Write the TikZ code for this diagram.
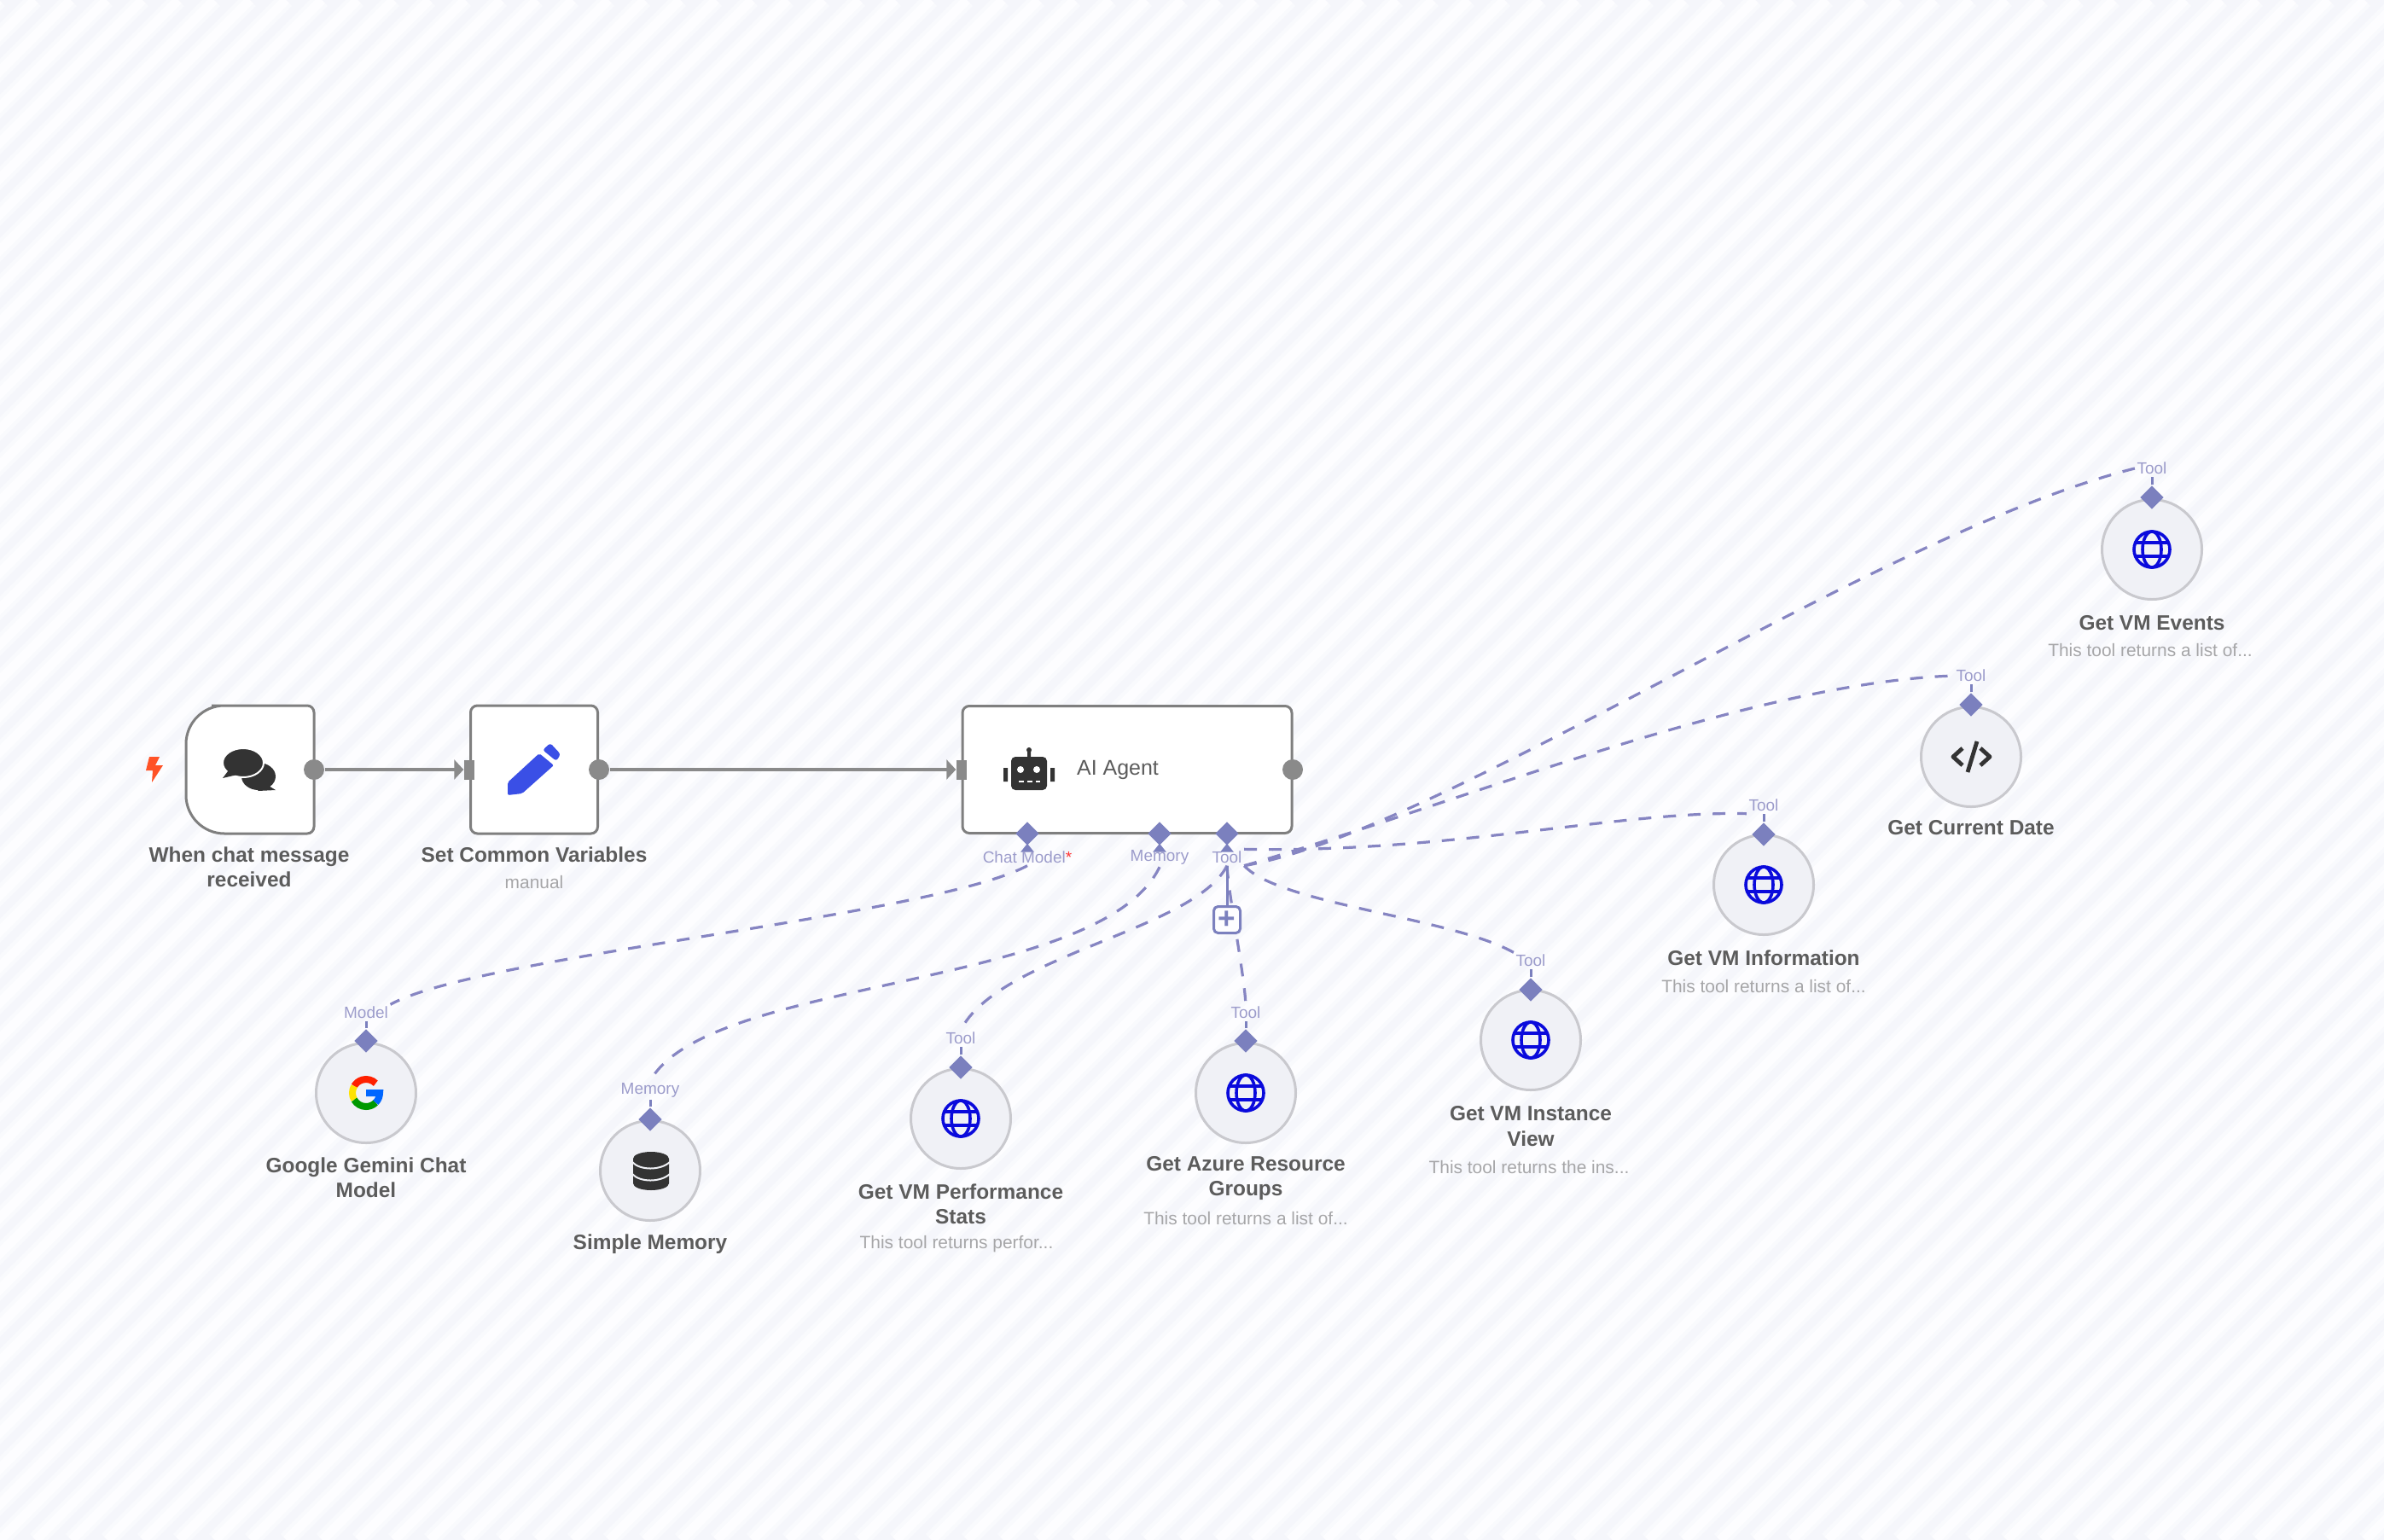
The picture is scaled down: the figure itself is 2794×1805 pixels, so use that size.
\documentclass[tikz,border=0pt]{standalone}
\usepackage{fontspec}
\setmainfont{Liberation Sans}
\usetikzlibrary{shapes.geometric,arrows.meta}
\definecolor{stripedark}{HTML}{F5F6FB}
\definecolor{stripemid}{HTML}{F9FAFD}
\definecolor{stripelight}{HTML}{FDFDFF}
\definecolor{framegray}{HTML}{7F7F7F}
\definecolor{flowgray}{HTML}{8A8A8A}
\definecolor{iconblack}{HTML}{333333}
\definecolor{penblue}{HTML}{3A4FE6}
\definecolor{globeblue}{HTML}{0A0ADC}
\definecolor{portblue}{HTML}{7B80BE}
\definecolor{wireblue}{HTML}{8685C2}
\definecolor{lblblue}{HTML}{9C9CCB}
\definecolor{toolfill}{HTML}{F0F1F6}
\definecolor{toolline}{HTML}{C9C9CE}
\definecolor{namegray}{HTML}{5C5C5C}
\definecolor{subgray}{HTML}{A6A6A8}
\tikzset{
    boxnode/.style={draw=framegray,fill=white,line width=0.3mm,rounded corners=0.8mm,inner sep=0},
    toolnode/.style={circle,draw=toolline,fill=toolfill,line width=0.3mm,minimum size=11.7mm,inner sep=0},
    outdot/.style={circle,fill=flowgray,minimum size=2.4mm,inner sep=0},
    indot/.style={fill=flowgray,minimum width=1.2mm,minimum height=2.3mm,inner sep=0},
    flow/.style={draw=flowgray,line width=0.35mm,-{Triangle[length=1.1mm,width=2.3mm]}},
    portnode/.style={diamond,fill=portblue,minimum width=2.8mm,minimum height=2.8mm,inner sep=0},
    wire/.style={draw=wireblue,line width=0.32mm,dash pattern=on 1.5mm off 1.4mm},
    stub/.style={draw=portblue,line width=0.3mm},
    portlbl/.style={text=lblblue,inner sep=0.2mm,font=\fontsize{5.4pt}{6.5pt}\selectfont},
    namelbl/.style={text=namegray,inner sep=0,align=center,font=\bfseries\fontsize{6.95pt}{8.3pt}\selectfont},
    sublbl/.style={text=subgray,inner sep=0,font=\fontsize{5.95pt}{7pt}\selectfont},
    globe/.pic={
        \draw[globeblue,line width=0.36mm] (0,0) circle[radius=21];
        \draw[globeblue,line width=0.36mm] (0,0) circle[x radius=11,y radius=21];
        \draw[globeblue,line width=0.36mm] (-19,-8) -- (19,-8) (-19,8) -- (19,8);
    }
}
\begin{document}
\begin{tikzpicture}[x=0.1mm,y=-0.1mm]
    \useasboundingbox (0,0) rectangle (2794,1805);
    \begin{scope}
        \clip (0,0) rectangle (2794,1805);
        \fill[stripedark] (0,0) rectangle (2794,1805);
        \foreach \s in {-1848,-1806,...,2800} {
            \draw[stripemid,line width=2.0mm] (\s,1805) -- (\s+1805,0);
            \draw[stripelight,line width=1.1mm] (\s,1805) -- (\s+1805,0);
        }
    \end{scope}

    % first row
    \fill[red!60!orange!85!white] (175,887) -- (187,887) -- (182,897) -- (191,897) -- (178,917) -- (179,903) -- (171,903) -- cycle;
    \draw[draw=framegray,fill=white,line width=0.3mm] [rounded corners=0.8mm] (293,827) -- (368,827) -- (368,977) -- (293,977) [rounded corners=4.5mm] -- (218,977) -- (218,827) -- cycle;
    \node[boxnode,minimum width=14.9mm,minimum height=15mm] (setvars) at (626,902) {};
    \node[boxnode,minimum width=38.6mm,minimum height=14.9mm] (agent) at (1321,902) {};
    \node[outdot] (chatout) at (368,902) {};
    \node[outdot] (setout) at (702,902) {};
    \node[outdot] (agentout) at (1515,902) {};
    \node[indot] (setin) at (550,902) {};
    \node[indot] (agentin) at (1127,902) {};
    \draw[flow] (chatout) -- (setin);
    \draw[flow] (setout) -- (agentin);

    % chat bubbles
    \fill[iconblack] (303,910) circle[x radius=20,y radius=16];
    \fill[iconblack] (310,918) -- (323,926) -- (302,927) -- cycle;
    \draw[white,fill=iconblack,line width=0.2mm] (285,894) circle[x radius=24,y radius=17];
    \fill[iconblack] (270,900) -- (261,912) -- (278,908) -- cycle;
    % pen
    \fill[penblue,rounded corners=0.2mm] (595,932) -- (595,917) -- (632,883) -- (649,897) -- (612,930) -- cycle;
    \fill[penblue,rounded corners=0.3mm] (636,879) -- (645,871) -- (657,884) -- (652,892) -- cycle;
    % robot
    \fill[iconblack,rounded corners=0.5mm] (1185,887) rectangle (1227,926);
    \fill[iconblack] (1176,900) rectangle (1181,916) (1231,900) rectangle (1236,916) (1204,880) rectangle (1208,887);
    \fill[iconblack] (1206,879) circle[radius=3];
    \fill[white] (1196,902) circle[radius=4] (1215,902) circle[radius=4];
    \draw[white,line width=0.2mm,dash pattern=on 0.6mm off 0.4mm] (1194,916) -- (1219,916);

    \node[text=namegray,font=\fontsize{7.1pt}{8pt}\selectfont] (agenttxt) at (1310,902) {AI Agent};
    \node[namelbl] (chatname) at (292,1016) {When chat message\\received};
    \node[namelbl] (setname) at (626,1002) {Set Common Variables};
    \node[sublbl] (setsub) at (626,1034) {manual};

    % agent ports
    \node[portnode] (modelport) at (1204,977) {};
    \node[portnode] (memport) at (1359,977) {};
    \node[portnode] (toolport) at (1438,977) {};
    \foreach \p in {modelport,memport,toolport}
        \fill[portblue] (\p.south) ++(-8,7) -- ++(16,0) -- ++(-8,-10) -- cycle;
    \node[portlbl] (modellbl) at (1204,1005) {Chat Model\textcolor{red!80!white}{*}};
    \node[portlbl] (memlbl) at (1359,1005) {Memory};
    \node[portlbl] (toollbl) at (1438,1005) {Tool};

    % sub nodes
    \node[toolnode] (gemini) at (429,1281) {};
    \node[toolnode] (memory) at (762,1372) {};
    \node[toolnode] (perf) at (1126,1311) {};
    \node[toolnode] (azure) at (1460,1281) {};
    \node[toolnode] (instance) at (1794,1219) {};
    \node[toolnode] (info) at (2067,1037) {};
    \node[toolnode] (date) at (2310,887) {};
    \node[toolnode] (events) at (2522,644) {};

    \node[portnode] (geminiport) at (429,1220) {};
    \node[portnode] (memoryport) at (762,1312) {};
    \node[portnode] (perfport) at (1126,1251) {};
    \node[portnode] (azureport) at (1460,1220) {};
    \node[portnode] (instanceport) at (1794,1160) {};
    \node[portnode] (infoport) at (2067,978) {};
    \node[portnode] (dateport) at (2310,826) {};
    \node[portnode] (eventsport) at (2522,583) {};

    \node[portlbl] (geminilbl) at (429,1187) {Model};
    \node[portlbl] (memorylbl) at (762,1278) {Memory};
    \node[portlbl] (perflbl) at (1126,1217) {Tool};
    \node[portlbl] (azurelbl) at (1460,1187) {Tool};
    \node[portlbl] (instancelbl) at (1794,1126) {Tool};
    \node[portlbl] (infolbl) at (2067,944) {Tool};
    \node[portlbl] (datelbl) at (2310,792) {Tool};
    \node[portlbl] (eventslbl) at (2522,549) {Tool};

    \foreach \p/\l in {geminiport/geminilbl,memoryport/memorylbl,perfport/perflbl,azureport/azurelbl,instanceport/instancelbl,infoport/infolbl,dateport/datelbl,eventsport/eventslbl}
        \draw[stub] (\p) -- (\l);

    \draw[wire] (modellbl.south) .. controls (1090,1075) and (560,1120) .. (geminilbl.north east);
    \draw[wire] (memlbl.south) .. controls (1290,1160) and (830,1145) .. (memorylbl.north);
    \draw[wire] (toollbl.south) .. controls (1400,1090) and (1170,1120) .. (perflbl.north);
    \draw[wire] (toollbl.south) .. controls (1440,1050) and (1458,1140) .. (azurelbl.north);
    \draw[wire] (toollbl.south east) .. controls (1500,1060) and (1700,1075) .. (instancelbl.north west);
    \draw[wire] (toollbl.north east) .. controls (1700,1000) and (1900,950) .. (infolbl.south west);
    \draw[wire] (toollbl.south east) .. controls (1700,945) and (2050,800) .. (datelbl.west);
    \draw[wire] (toollbl.south east) .. controls (1690,975) and (2200,625) .. (eventslbl.west);

    \node[draw=portblue,fill=stripelight,line width=0.3mm,rounded corners=0.5mm,minimum size=3.1mm,inner sep=0,text=portblue,font=\bfseries\fontsize{10pt}{10pt}\selectfont] (addtool) at (1438,1078) {+};
    \draw[stub] (toollbl) -- (addtool);

    % google
    \draw[red!75!orange,line width=0.8mm] (429,1281) ++(45:1.6mm) arc[start angle=45,end angle=150,radius=1.6mm];
    \draw[yellow!85!orange,line width=0.8mm] (429,1281) ++(150:1.6mm) arc[start angle=150,end angle=210,radius=1.6mm];
    \draw[green!60!black,line width=0.8mm] (429,1281) ++(210:1.6mm) arc[start angle=210,end angle=315,radius=1.6mm];
    \draw[blue!60!cyan,line width=0.8mm] (429,1281) ++(315:1.6mm) arc[start angle=315,end angle=360,radius=1.6mm] -- (429,1281);
    % database
    \fill[iconblack] (742,1358) arc[start angle=180,end angle=0,x radius=2.1mm,y radius=0.8mm] -- (784,1387) arc[start angle=0,end angle=-180,x radius=2.1mm,y radius=0.8mm] -- cycle;
    \draw[toolfill,line width=0.2mm] (741,1362) .. controls (750,1372) and (774,1372) .. (785,1362);
    \draw[toolfill,line width=0.2mm] (741,1376) .. controls (750,1386) and (774,1386) .. (785,1376);
    % code
    \draw[iconblack,line width=0.48mm,line join=round] (2300,877) -- (2289,887) -- (2300,897);
    \draw[iconblack,line width=0.48mm,line join=round] (2321,877) -- (2332,887) -- (2321,897);
    \draw[iconblack,line width=0.48mm] (2317,869) -- (2306,905);
    % globes
    \foreach \c in {perf,azure,instance,info,events}
        \pic at (\c) {globe};

    \node[namelbl] (gemininame) at (429,1380) {Google Gemini Chat\\Model};
    \node[namelbl] (memoryname) at (762,1458) {Simple Memory};
    \node[namelbl] (perfname) at (1126,1411) {Get VM Performance\\Stats};
    \node[sublbl] (perfsub) at (1121,1458) {This tool returns perfor...};
    \node[namelbl] (azurename) at (1460,1381) {Get Azure Resource\\Groups};
    \node[sublbl] (azuresub) at (1460,1428) {This tool returns a list of...};
    \node[namelbl] (instancename) at (1794,1320) {Get VM Instance\\View};
    \node[sublbl] (instancesub) at (1792,1368) {This tool returns the ins...};
    \node[namelbl] (infoname) at (2067,1123) {Get VM Information};
    \node[sublbl] (infosub) at (2067,1156) {This tool returns a list of...};
    \node[namelbl] (datename) at (2310,970) {Get Current Date};
    \node[namelbl] (eventsname) at (2522,730) {Get VM Events};
    \node[sublbl] (eventssub) at (2520,762) {This tool returns a list of...};
\end{tikzpicture}
\end{document}
